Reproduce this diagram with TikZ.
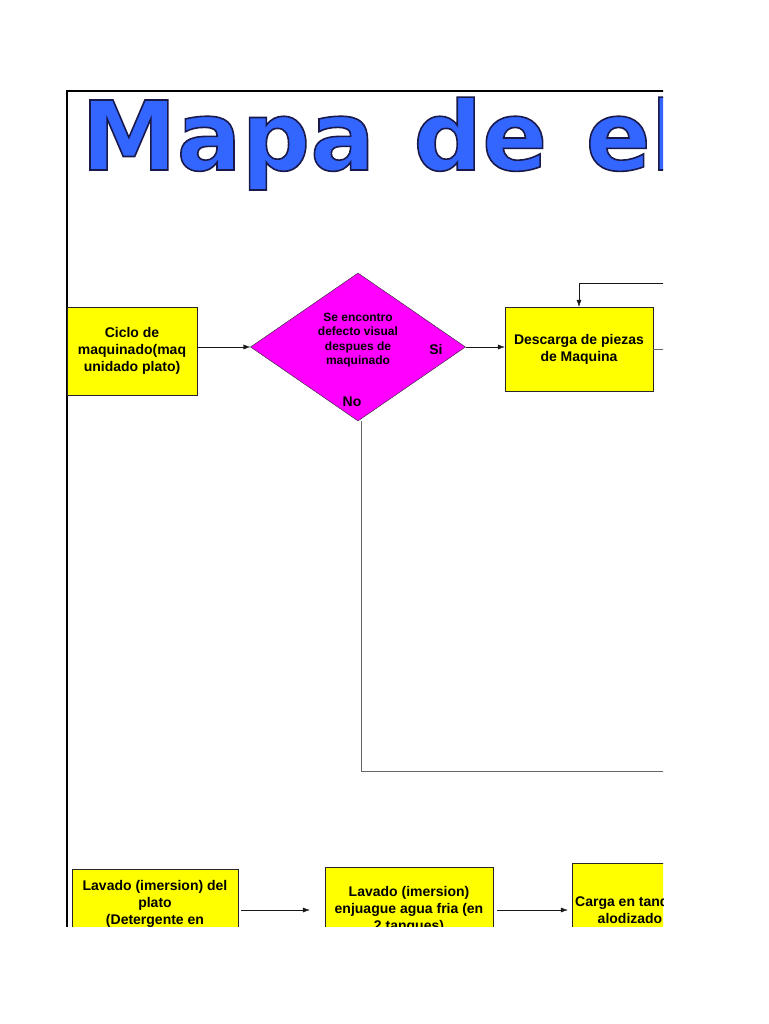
\documentclass[tikz,border=0pt]{standalone}
\usepackage{fontspec}
\setmainfont{Liberation Sans}
\newfontfamily\titlefont{DejaVu Sans}[WordSpace=1.15]
\usetikzlibrary{shapes.geometric,arrows.meta}
\definecolor{amarillo}{HTML}{FFFF00}
\definecolor{rosa}{HTML}{FF00FF}
\definecolor{azultitulo}{HTML}{3366FF}
\newcommand\contorno[1]{\special{pdf:literal direct 2 Tr 1.6 w 0.1 0.1 0.3 RG}#1\special{pdf:literal direct 0 Tr}}
\begin{document}
\begin{tikzpicture}[x=1pt,y=-1pt]
		\tikzstyle{every node}+=[inner sep=0pt]
		\tikzstyle{caja}=[draw=black!85, fill=amarillo, align=center, font=\bfseries\fontsize{14}{17}\selectfont]
		\tikzstyle{rombo}=[diamond, draw=black!85, fill=rosa]
		\tikzstyle{flecha}=[draw=black!90, -{Latex[length=7pt,width=5pt]}]
		\tikzstyle{linea}=[draw=black!60]
		\useasboundingbox (0,0) rectangle (768,1024);
		\clip (0,0) rectangle (663,926);
		\draw [black, line width=2.3pt] (67,1000) -- (67,91) -- (760,91);
		\node [anchor=base west, text=azultitulo, font=\titlefont\bfseries\fontsize{96}{96}\selectfont] (titulo) at (81,170) {\contorno{Mapa de el}};
		\node [caja, minimum width=130pt, minimum height=88pt] (ciclo) at (132,351) {Ciclo de\\maquinado(maq\\unidado plato)};
		\node [rombo, minimum width=215pt, minimum height=148pt] (dec) at (358,347) {};
		\node [align=center, font=\bfseries\fontsize{12}{14.5}\selectfont] (dectexto) at (358,340) {Se encontro\\defecto visual\\despues de\\maquinado};
		\node [font=\bfseries\fontsize{14}{14}\selectfont] (si) at (436,349) {Si};
		\node [font=\bfseries\fontsize{14}{14}\selectfont] (no) at (352,402) {No};
		\node [caja, minimum width=148pt, minimum height=84pt] (desc) at (579,349) {Descarga de piezas\\de Maquina};
		\node [caja, minimum width=166pt, minimum height=70pt] (lav1) at (155,904) {Lavado (imersion) del\\plato\\(Detergente en};
		\node [caja, minimum width=168pt, minimum height=86pt] (lav2) at (409,910) {Lavado (imersion)\\enjuague agua fria (en\\2 tanques)};
		\node [caja, minimum width=116pt, minimum height=94pt] (lav3) at (630,910) {Carga en tanque\\alodizado};
		\coordinate (retorno) at (700,283);
		\coordinate (salida) at (700,349);
		\coordinate (fin) at (700,771);
		\draw [flecha] (ciclo.east |- dec.west) -- (dec.west);
		\draw [flecha] (dec.east) -- (desc.west |- dec.east);
		\draw [flecha] (retorno) -| (desc.north);
		\draw [linea] (desc.east) -- (salida);
		\draw [linea] ([xshift=3pt]dec.south) |- (fin);
		\draw [flecha, shorten <=3pt, shorten >=15pt] (lav1.east |- lav2.west) -- (lav2.west);
		\draw [flecha, shorten <=4pt, shorten >=4pt] (lav2.east) -- (lav2.east -| lav3.west);
\end{tikzpicture}
\end{document}
